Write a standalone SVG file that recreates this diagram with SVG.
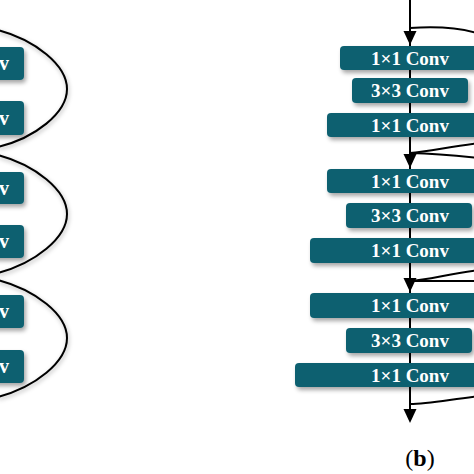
<svg xmlns="http://www.w3.org/2000/svg" width="474" height="474" viewBox="0 0 474 474">
<style>
.box{fill:#0f6170;filter:url(#sh)}
.lbl{font-family:"Liberation Serif","Times New Roman",serif;font-weight:bold;font-size:19px;fill:#fff;text-anchor:middle}
.ll{font-family:"Liberation Serif","Times New Roman",serif;font-weight:bold;font-size:20px;fill:#fff;text-anchor:end}
.ell{fill:none;stroke:#000;stroke-width:2;filter:url(#sh2)}
.skip{fill:none;stroke:#000;stroke-width:2}
.main{stroke:#000;stroke-width:2}
.head{fill:#000}
</style>
<defs>
<filter id="sh" x="-20%" y="-30%" width="140%" height="170%"><feDropShadow dx="2" dy="3" stdDeviation="2" flood-color="#000" flood-opacity="0.35"/></filter>
<filter id="sh2" x="-20%" y="-20%" width="140%" height="140%"><feDropShadow dx="1" dy="2" stdDeviation="2" flood-color="#000" flood-opacity="0.3"/></filter>
<polygon id="ah" class="head" points="-6.5,-14 6.5,-14 0,0"/>
</defs>
<rect width="474" height="474" fill="#fff"/>

<!-- left part -->
<g id="left-group-1">
<path class="ell" d="M-2,30 C35,40 67,65 67,89 C67,113 35,138 -2,147"/>
<g id="l1"><rect class="box" x="-10" y="47" width="34" height="33" rx="4"/><text class="ll" x="9" y="70">v</text></g>
<g id="l2"><rect class="box" x="-10" y="101" width="34" height="34" rx="4"/><text class="ll" x="9" y="125">v</text></g>
</g>
<g id="left-group-2">
<path class="ell" d="M-2,155 C35,165 67,190 67,214 C67,238 35,263 -2,273"/>
<g id="l3"><rect class="box" x="-10" y="172" width="34" height="32" rx="4"/><text class="ll" x="9" y="195">v</text></g>
<g id="l4"><rect class="box" x="-10" y="225" width="34" height="33" rx="4"/><text class="ll" x="9" y="248">v</text></g>
</g>
<g id="left-group-3">
<path class="ell" d="M-2,280 C35,290 67,314 67,338 C67,362 35,387 -2,397"/>
<g id="l5"><rect class="box" x="-10" y="295" width="34" height="33" rx="4"/><text class="ll" x="9" y="318">v</text></g>
<g id="l6"><rect class="box" x="-10" y="350" width="34" height="33" rx="4"/><text class="ll" x="9" y="373">v</text></g>
</g>

<!-- connectors -->
<g id="connectors">
<line class="main" x1="410" y1="0" x2="410" y2="412"/>
<use href="#ah" x="410" y="45"/>
<use href="#ah" x="410" y="168"/>
<use href="#ah" x="410" y="292"/>
<use href="#ah" x="410" y="423"/>
<path class="skip" d="M410,28 C440,26 462,28 480,34"/>
<path class="skip" d="M480,143 C452,146 428,152 410,153"/>
<path class="skip" d="M410,153 C440,154 460,156 480,158"/>
<path class="skip" d="M480,270 C452,273 428,280 410,281"/>
<path class="skip" d="M410,281 C440,281 460,281 480,281"/>
<path class="skip" d="M480,396 C452,399 428,404 410,404"/>
</g>

<!-- block 1 -->
<g id="b1a"><rect class="box" x="340" y="46" width="160" height="24" rx="4"/><text class="lbl" x="410" y="64.5">1×1 Conv</text></g>
<g id="b1b"><rect class="box" x="352" y="78" width="116" height="25" rx="4"/><text class="lbl" x="410" y="97">3×3 Conv</text></g>
<g id="b1c"><rect class="box" x="327" y="113" width="173" height="24" rx="4"/><text class="lbl" x="410" y="131.5">1×1 Conv</text></g>
<!-- block 2 -->
<g id="b2a"><rect class="box" x="327" y="169" width="173" height="24" rx="4"/><text class="lbl" x="410" y="187.5">1×1 Conv</text></g>
<g id="b2b"><rect class="box" x="346" y="203" width="126" height="25" rx="4"/><text class="lbl" x="410" y="222">3×3 Conv</text></g>
<g id="b2c"><rect class="box" x="310" y="238" width="190" height="25" rx="4"/><text class="lbl" x="410" y="257">1×1 Conv</text></g>
<!-- block 3 -->
<g id="b3a"><rect class="box" x="310" y="293" width="190" height="25" rx="4"/><text class="lbl" x="410" y="312">1×1 Conv</text></g>
<g id="b3b"><rect class="box" x="346" y="328" width="126" height="25" rx="4"/><text class="lbl" x="410" y="347">3×3 Conv</text></g>
<g id="b3c"><rect class="box" x="295" y="363" width="205" height="24" rx="4"/><text class="lbl" x="410" y="381.5">1×1 Conv</text></g>

<text x="420" y="466" font-family="Liberation Serif, Times New Roman, serif" font-size="24" text-anchor="middle" fill="#000">(<tspan font-weight="bold">b</tspan>)</text>
</svg>
